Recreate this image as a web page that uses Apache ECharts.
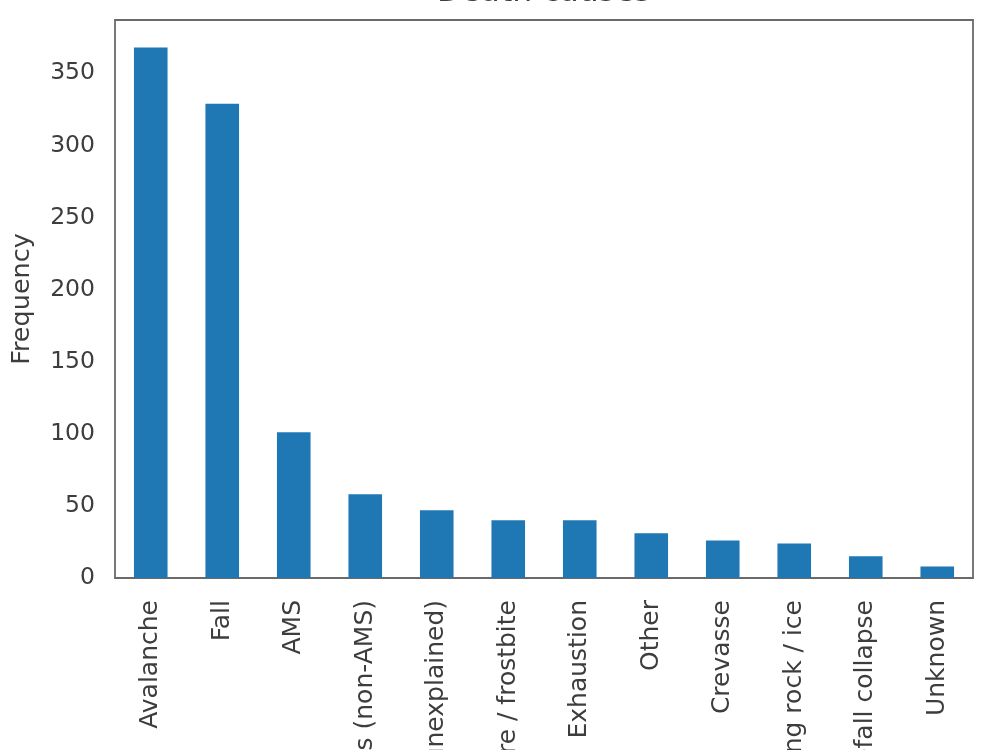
<!DOCTYPE html>
<html>
<head>
<meta charset="utf-8">
<script src="https://cdn.jsdelivr.net/npm/echarts@6/dist/echarts.min.js"></script>
<style>
html,body{margin:0;padding:0;background:#fff;}
#chart{width:1000px;height:750px;}
</style>
</head>
<body>
<div id="chart"></div>
<script>
const categories = ["Avalanche", "Fall", "AMS", "Illness (non-AMS)", "Disappearance (unexplained)", "Exposure / frostbite", "Exhaustion", "Other", "Crevasse", "Falling rock / ice", "Icefall collapse", "Unknown"];
const frequency = [368, 329, 101, 58, 47, 40, 40, 31, 26, 24, 15, 8];
const yTicks = [0, 50, 100, 150, 200, 250, 300, 350];

const textColor = '#3d3d3d';
const chart = echarts.init(document.getElementById('chart'), null, {renderer: 'canvas'});
chart.setOption({
  animation: false,
  backgroundColor: '#ffffff',
  title: {
    text: 'Death causes',
    left: 544,
    textAlign: 'center',
    top: -23,
    padding: 0,
    textStyle: {fontFamily: 'DejaVu Sans', fontSize: 31.5, fontWeight: 'normal', color: textColor}
  },
  grid: {
    left: 115, right: 27, top: 20, bottom: 172,
    outerBoundsMode: 'none',
    containLabel: false,
    show: true, borderColor: '#6a6a6a', borderWidth: 1.8, backgroundColor: 'transparent'
  },
  xAxis: {
    type: 'category',
    data: categories,
    axisLine: {show: false},
    axisTick: {show: false},
    splitLine: {show: false},
    axisLabel: {
      interval: 0, rotate: 90, margin: 22,
      fontFamily: 'DejaVu Sans', fontSize: 25, color: textColor
    }
  },
  yAxis: {
    type: 'value',
    min: 0, max: 387, interval: 50,
    name: 'Frequency',
    nameLocation: 'middle',
    nameGap: 80,
    nameTextStyle: {fontFamily: 'DejaVu Sans', fontSize: 25.5, color: textColor, padding: [0, 0, 0, 0]},
    axisLine: {show: false},
    axisTick: {show: false},
    splitLine: {show: false},
    axisLabel: {
      margin: 20,
      fontFamily: 'DejaVu Sans', fontSize: 23.5, color: textColor,
      formatter: function (v) { return yTicks.indexOf(v) >= 0 ? String(v) : ''; }
    }
  },
  series: [{
    type: 'bar',
    data: frequency,
    barWidth: '47%',
    itemStyle: {color: '#1f77b4'}
  }]
});
</script>
</body>
</html>
